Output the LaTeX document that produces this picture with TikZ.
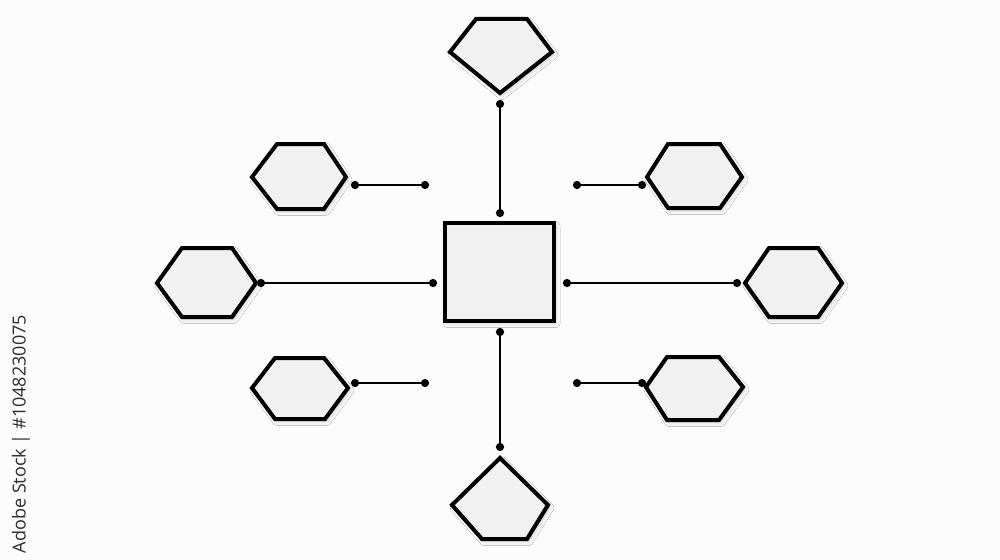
\documentclass[tikz,border=0pt]{standalone}
\usepackage{fontspec}
\newfontfamily\stockfont{Open Sans}
\usetikzlibrary{arrows.meta,shadows.blur}
\definecolor{shapefill}{RGB}{241,241,241}
\definecolor{paper}{RGB}{252,252,252}
\definecolor{stockgray}{RGB}{45,45,45}
\tikzset{every picture/.style={line width=0.75pt}}

\begin{document}
\begin{tikzpicture}[x=0.75pt,y=0.75pt,yscale=-1,xscale=1,
	box/.style={draw=black, line width=3pt, line join=miter, fill=shapefill,
		blur shadow={shadow xshift=1.5pt, shadow yshift=-2pt, shadow blur radius=3pt, shadow opacity=18}},
	link/.style={line width=2.2pt, {Circle[length=6pt]}-{Circle[length=6pt]}}]
	%set diagram to the size of the reference
	\useasboundingbox (0,0) rectangle (1000,560);
	\fill[paper] (0,0) rectangle (1000,560);

	%Shape: Square [id:hub]
	\draw[box] (445,223) rectangle (554,321);
	%Shape: Pentagon [id:top]
	\draw[box] (476,19) -- (527,19) -- (552,52) -- (500,93) -- (450,52) -- cycle;
	%Shape: Pentagon [id:bottom]
	\draw[box] (500,458) -- (548,505) -- (527,539) -- (482,539) -- (452,505) -- cycle;

	%Shape: Hexagon [id:upleft]
	\draw[box] (252,177) -- (277,144) -- (324,144) -- (346,177) -- (324,209) -- (277,209) -- cycle;
	%Shape: Hexagon [id:midleft]
	\draw[box] (157,283) -- (182,248) -- (232,248) -- (256,283) -- (232,317) -- (182,317) -- cycle;
	%Shape: Hexagon [id:lowleft]
	\draw[box] (252,388) -- (275,358) -- (324,358) -- (348,388) -- (325,419) -- (275,419) -- cycle;
	%Shape: Hexagon [id:upright]
	\draw[box] (647,177) -- (668,144) -- (720,144) -- (742,177) -- (720,208) -- (668,208) -- cycle;
	%Shape: Hexagon [id:midright]
	\draw[box] (745,283) -- (769,248) -- (818,248) -- (842,283) -- (818,317) -- (769,317) -- cycle;
	%Shape: Hexagon [id:lowright]
	\draw[box] (646,387) -- (667,357) -- (719,357) -- (743,387) -- (719,420) -- (667,420) -- cycle;

	%Coordinates: connector ends
	\coordinate (top-a) at (500,100);
	\coordinate (top-b) at (500,217);
	\coordinate (bot-a) at (500,328);
	\coordinate (bot-b) at (500,451);
	\coordinate (midleft-a) at (257,283);
	\coordinate (midleft-b) at (437,283);
	\coordinate (midright-a) at (563,283);
	\coordinate (midright-b) at (741,283);
	\coordinate (upleft-a) at (351,185);
	\coordinate (upleft-b) at (429,185);
	\coordinate (upright-a) at (573,185);
	\coordinate (upright-b) at (646,185);
	\coordinate (lowleft-a) at (351,383);
	\coordinate (lowleft-b) at (429,383);
	\coordinate (lowright-a) at (573,383);
	\coordinate (lowright-b) at (646,383);

	%Straight Lines [id:connectors]
	\draw[link] (top-a) -- (top-b);
	\draw[link] (bot-a) -- (bot-b);
	\draw[link] (midleft-a) -- (midleft-b);
	\draw[link] (midright-a) -- (midright-b);
	\draw[link] (upleft-a) -- (upleft-b);
	\draw[link] (upright-a) -- (upright-b);
	\draw[link] (lowleft-a) -- (lowleft-b);
	\draw[link] (lowright-a) -- (lowright-b);

	% Text Node
	\node[rotate=90, text=stockgray, font=\stockfont\fontsize{13.5}{15}\selectfont] (stockid) at (21,434) {Adobe Stock | \#1048230075};

\end{tikzpicture}
\end{document}
